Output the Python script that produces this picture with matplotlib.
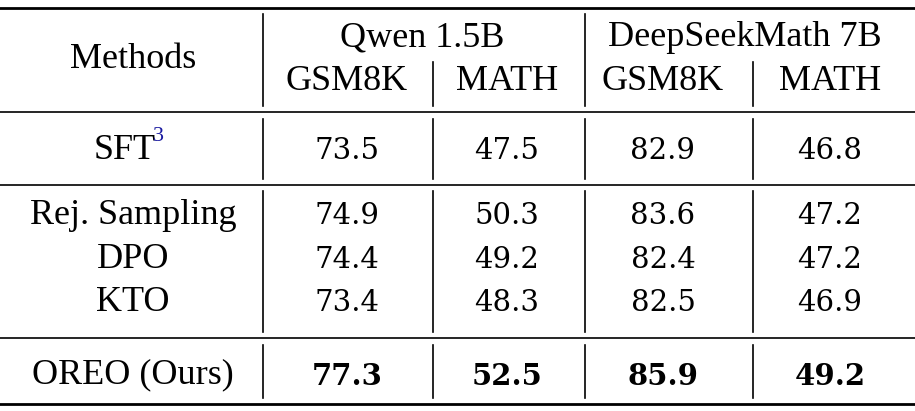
import matplotlib.pyplot as plt

methods = ["SFT", "Rej. Sampling", "DPO", "KTO", "OREO (Ours)"]
qwen_gsm8k = ["73.5", "74.9", "74.4", "73.4", "77.3"]
qwen_math = ["47.5", "50.3", "49.2", "48.3", "52.5"]
ds_gsm8k = ["82.9", "83.6", "82.4", "82.5", "85.9"]
ds_math = ["46.8", "47.2", "47.2", "46.9", "49.2"]

W, H = 915, 411
fig = plt.figure(figsize=(W / 100, H / 100), dpi=100)
ax = fig.add_axes([0, 0, 1, 1])
ax.set_xlim(0, W)
ax.set_ylim(H, 0)
ax.axis("off")

fam = "Liberation Serif"
fs = 26
col_x = [133, 347, 507, 663, 830]
row_y = [150, 215, 259, 302, 375]

def txt(x, y, s, bold=False, family=fam, size=fs, **kw):
    ax.text(x, y, s, ha="center", va="center", fontsize=size, family=family,
            fontweight="bold" if bold else "normal", **kw)

# header
txt(133, 60, "Methods")
txt(422, 38, "Qwen 1.5B")
txt(745, 38, "DeepSeekMath 7B")
for x, s in zip(col_x[1:], ["GSM8K", "MATH", "GSM8K", "MATH"]):
    txt(x, 82, s)

# body
for i, m in enumerate(methods):
    bold = m.startswith("OREO")
    y = row_y[i]
    if m == "SFT":
        txt(125, y, m)
        ax.text(153, y - 14, "3", fontsize=16, family=fam, color="#1a1aa0",
                ha="left", va="center")
    else:
        txt(133, y, m)
    vals = [qwen_gsm8k[i], qwen_math[i], ds_gsm8k[i], ds_math[i]]
    for x, v in zip(col_x[1:], vals):
        txt(x, y + 1, v, bold=bold, family="DejaVu Serif", size=21)

# horizontal rules
ax.plot([0, W], [8, 8], color="black", lw=2)
ax.plot([0, W], [404, 404], color="black", lw=2)
for y in [112, 185, 338]:
    ax.plot([0, W], [y, y], color="black", lw=1.2)

# vertical lines (segments per block)
blocks = [(14, 106), (119, 179), (191, 332), (345, 398)]
for y0, y1 in blocks:
    for x in [263, 585]:
        ax.plot([x, x], [y0, y1], color="black", lw=1.2)
for y0, y1 in [(62, 106)] + blocks[1:]:
    for x in [433, 753]:
        ax.plot([x, x], [y0, y1], color="black", lw=1.2)

fig.savefig("out.png", dpi=100)
